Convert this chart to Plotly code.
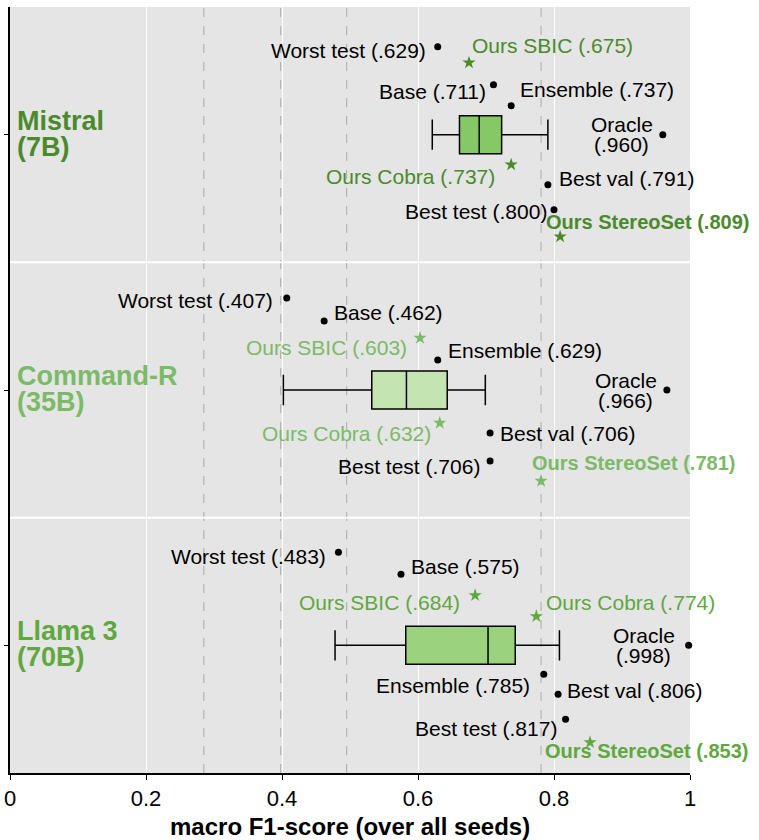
import plotly.graph_objects as go

# --- data ---------------------------------------------------------------
model_names = ["Mistral", "Command-R", "Llama 3"]
model_sizes = ["(7B)", "(35B)", "(70B)"]

point_names = ["Worst test", "Base", "Ensemble", "Oracle", "Best val", "Best test"]
mistral_points = [0.629, 0.711, 0.737, 0.960, 0.791, 0.800]
command_r_points = [0.407, 0.462, 0.629, 0.966, 0.706, 0.706]
llama_points = [0.483, 0.575, 0.785, 0.998, 0.806, 0.817]

ours_names = ["Ours SBIC", "Ours Cobra", "Ours StereoSet"]
mistral_ours = [0.675, 0.737, 0.809]
command_r_ours = [0.603, 0.632, 0.781]
llama_ours = [0.684, 0.774, 0.853]

# box over all seeds: lower whisker, q1, median, q3, upper whisker
mistral_box = [0.621, 0.661, 0.690, 0.723, 0.791]
command_r_box = [0.402, 0.532, 0.583, 0.643, 0.699]
llama_box = [0.478, 0.582, 0.703, 0.743, 0.808]

reference_lines = [0.285, 0.398, 0.495, 0.781]

# --- styling --------------------------------------------------------------
text_colors = ["#4a8a2c", "#7bba67", "#5ea83e"]
box_fills = ["#87c866", "#c4e5b1", "#9ad27d"]
FONT = "Liberation Sans, Arial, sans-serif"

# y axis is in pixel units (plot area is 766 px tall), rows top to bottom
PLOT_H = 766
row_centers = [PLOT_H * 5 / 6, PLOT_H / 2, PLOT_H / 6]

# label placement: marker offset from row centre (px, up is +),
# side of the text, horizontal gap, text offset from marker
placement = [
    {
        "Worst test": (88, "left", 10, -4),
        "Base": (50, "left", 5, -7),
        "Ensemble": (29, "right", 7, 16),
        "Oracle": (0, "left", 11, 0),
        "Best val": (-50, "right", 9, 6),
        "Best test": (-75, "left", 5, -2),
        "Ours SBIC": (72, "right", 1, 17),
        "Ours Cobra": (-30, "left", 14, -12),
        "Ours StereoSet": (-102, "right", -16, 15),
    },
    {
        "Worst test": (92, "left", 12, -2),
        "Base": (69, "right", 8, 9),
        "Ensemble": (30, "right", 8, 10),
        "Oracle": (0, "left", 11, 0),
        "Best val": (-43, "right", 8, 0),
        "Best test": (-71, "left", 8, -5),
        "Ours SBIC": (52, "left", 11, -9),
        "Ours Cobra": (-33, "left", 7, -10),
        "Ours StereoSet": (-91, "right", -11, 18),
    },
    {
        "Worst test": (93, "left", 10, -4),
        "Base": (71, "right", 8, 8),
        "Ensemble": (-29, "left", 12, -11),
        "Oracle": (0, "left", 15, 0),
        "Best val": (-49, "right", 7, 4),
        "Best test": (-74, "left", 7, -9),
        "Ours SBIC": (50, "left", 13, -7),
        "Ours Cobra": (29, "right", 8, 14),
        "Ours StereoSet": (-97, "right", -47, -9),
    },
]


def short(v):
    return f"{v:.3f}"[1:]


fig = go.Figure()
annotations = []

rows = [
    (mistral_points, mistral_ours, mistral_box),
    (command_r_points, command_r_ours, command_r_box),
    (llama_points, llama_ours, llama_box),
]

for i, (points, ours, box) in enumerate(rows):
    yc = row_centers[i]
    place = placement[i]
    color = text_colors[i]

    fig.add_trace(go.Box(
        y=[yc], q1=[box[1]], median=[box[2]], q3=[box[3]],
        lowerfence=[box[0]], upperfence=[box[4]],
        orientation="h", width=38, whiskerwidth=0.8,
        fillcolor=box_fills[i], line=dict(color="black", width=1.5),
        boxpoints=False, showlegend=False, hoverinfo="skip",
    ))

    fig.add_trace(go.Scatter(
        x=points, y=[yc + place[n][0] for n in point_names],
        mode="markers", marker=dict(color="black", size=7),
        showlegend=False, cliponaxis=False, hoverinfo="skip",
    ))
    fig.add_trace(go.Scatter(
        x=ours, y=[yc + place[n][0] for n in ours_names],
        mode="markers", marker=dict(color=color, size=10, symbol="star"),
        showlegend=False, cliponaxis=False, hoverinfo="skip",
    ))

    def label(name, v, col, bold=False):
        dy, side, gap, tdy = place[name]
        txt = f"{name} ({short(v)})"
        size = 21
        if bold:
            txt = f"<b>{txt}</b>"
            size = 20
        if name == "Oracle":
            for line, sh in (("Oracle", 10), (f"({short(v)})", -10)):
                annotations.append(dict(
                    x=v, y=yc + dy, text=line, showarrow=False,
                    xanchor="center", yanchor="middle",
                    xshift=-(gap + 30), yshift=sh,
                    font=dict(size=size, color=col, family=FONT)))
            return
        annotations.append(dict(
            x=v, y=yc + dy, text=txt, showarrow=False,
            xanchor="right" if side == "left" else "left", yanchor="middle",
            xshift=-gap if side == "left" else gap, yshift=tdy,
            font=dict(size=size, color=col, family=FONT)))

    for n, v in zip(point_names, points):
        label(n, v, "black")
    for n, v in zip(ours_names, ours):
        label(n, v, color, bold=(n == "Ours StereoSet"))

    # row name written inside the panel
    for line, sh in ((model_names[i], 14), (model_sizes[i], -12)):
        annotations.append(dict(
            x=0, y=yc, text=f"<b>{line}</b>", showarrow=False,
            xanchor="left", yanchor="middle", xshift=5, yshift=sh,
            font=dict(size=27, color=color, family=FONT)))

# dashed reference lines across all rows
for v in reference_lines:
    fig.add_shape(type="line", xref="x", yref="y domain", x0=v, x1=v,
                  y0=0, y1=1.01, layer="below",
                  line=dict(color="#b4b4b4", width=1.2, dash="dash"))

# white separators between the rows
for b in (PLOT_H / 3, PLOT_H * 2 / 3):
    fig.add_shape(type="line", xref="x domain", yref="y", x0=0, x1=1,
                  y0=b, y1=b, layer="below",
                  line=dict(color="white", width=2))

annotations.append(dict(
    x=0.5, y=-0.07, xref="paper", yref="paper", showarrow=False,
    text="<b>macro F1-score (over all seeds)</b>", yanchor="middle",
    font=dict(size=24, color="black", family=FONT)))

fig.update_layout(
    width=759, height=840,
    margin=dict(l=4, r=69, t=7, b=67),
    plot_bgcolor="#e5e5e5", paper_bgcolor="white",
    font=dict(family=FONT, color="black"),
    annotations=annotations,
    xaxis=dict(
        range=[0, 1], tickvals=[0, 0.2, 0.4, 0.6, 0.8, 1],
        ticktext=["0", "0.2", "0.4", "0.6", "0.8", "1"],
        showgrid=True, gridcolor="white", gridwidth=1.2, zeroline=False,
        showline=True, linecolor="black", linewidth=1.5,
        ticks="outside", ticklen=5, tickcolor="black",
        tickfont=dict(size=22, family=FONT),
    ),
    yaxis=dict(
        range=[0, PLOT_H], tickvals=row_centers, showticklabels=False,
        showgrid=False, zeroline=False,
        showline=True, linecolor="black", linewidth=1.5,
        ticks="outside", ticklen=4, tickcolor="black",
    ),
)

# page has an 8px body margin by default; drop it so the figure sits at 0,0
fig.write_html("out.html", config={"displayModeBar": False},
               post_script="document.body.style.margin='0';")
